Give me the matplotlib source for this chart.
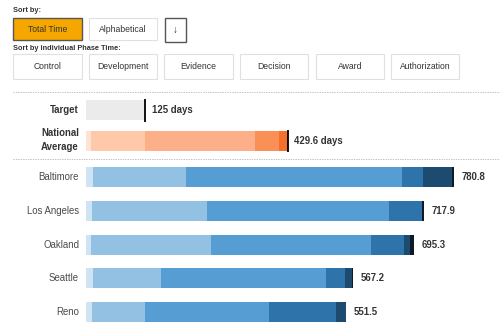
import numpy as np
import matplotlib.pyplot as plt
from matplotlib.patches import Rectangle

plt.rcParams['font.family'] = ['Liberation Sans', 'DejaVu Sans']

# phase times (days): Control, Development, Evidence, Decision, Award, Authorization
phases = ["Control", "Development", "Evidence", "Decision", "Award", "Authorization"]
cities = ["Baltimore", "Los Angeles", "Oakland", "Seattle", "Reno"]
city_phases = [
    [15.5, 196.7, 457.6, 45.8, 60.2, 5.0],
    [12.1, 245.3, 385.5, 70.7, 0.0, 4.3],
    [10.0, 254.6, 340.1, 70.0, 12.7, 7.9],
    [15.5, 144.3, 348.6, 41.0, 14.2, 3.6],
    [12.1, 113.1, 262.5, 142.8, 20.6, 0.4],
]
city_totals = [780.8, 717.9, 695.3, 567.2, 551.5]
national_phases = [10.0, 115.2, 233.4, 50.2, 17.0, 3.8]
national_total = 429.6
target_days = 125

blues = ["#d0e3f3", "#93c1e3", "#559dd2", "#2e74aa", "#1d4a6f", "#0e1a28"]
oranges = ["#fde3d3", "#fdc9a9", "#fcaf88", "#fb9057", "#f56f2d", "#e8591a"]

W, H = 500, 333
fig = plt.figure(figsize=(5, 3.33), dpi=100)

# pixel-space axes for the controls and row labels
ui = fig.add_axes([0, 0, 1, 1])
ui.set_xlim(0, W)
ui.set_ylim(H, 0)
ui.axis("off")

def button(x0, x1, y0, y1, text, face="white", edge="#e0e0e0", size=6.2, lw=0.8):
    ui.add_patch(Rectangle((x0, y0), x1 - x0, y1 - y0, facecolor=face,
                           edgecolor=edge, lw=lw))
    ui.text((x0 + x1) / 2, (y0 + y1) / 2, text, ha="center", va="center",
            fontsize=size, color="#333333")

ui.text(13, 10, "Sort by:", fontsize=5.3, fontweight="bold", color="#333333", va="center")
button(13, 82, 18, 40, "Total Time", face="#f5a700", edge="#555555", lw=1.0)
button(89, 157, 18, 40, "Alphabetical")
button(165, 186, 18, 42, "\u2193", edge="#555555", size=7, lw=1.0)
ui.text(13, 48, "Sort by individual Phase Time:", fontsize=5.3, fontweight="bold",
        color="#333333", va="center")
btn_x = [(13, 82), (89, 157), (164, 233), (240, 308), (316, 384), (391, 459)]
for (x0, x1), name in zip(btn_x, phases):
    button(x0, x1, 54, 79, name)

ui.plot([13, W], [92, 92], color="#aaaaaa", lw=0.5, ls=(0, (2, 1.5)))
ui.plot([13, W], [159, 159], color="#aaaaaa", lw=0.5, ls=(0, (2, 1.5)))

# bar axes: x in days, y shares pixel rows with ui
left_px = 86
px_per_day = 0.4713
ax = fig.add_axes([left_px / W, 0, 1 - left_px / W, 1])
ax.set_xlim(0, (W - left_px) / px_per_day)
ax.set_ylim(H, 0)
ax.axis("off")
bar_h = 20

# target row
y_t = 110
ax.barh(y_t, target_days, height=bar_h, color="#ebebeb")
ax.vlines(target_days, y_t - 11, y_t + 12, color="black", lw=1.3)
ax.annotate(f"{target_days} days", (target_days, y_t), xytext=(5, 0),
            textcoords="offset points", va="center", fontsize=6.9,
            fontweight="bold", color="#333333")
ui.text(79, y_t, "Target", ha="right", va="center", fontsize=6.9,
        fontweight="bold", color="#333333")

# national average row
y_n = 140.5
ax.barh(y_n, national_phases, left=np.concatenate([[0], np.cumsum(national_phases)[:-1]]),
        height=bar_h, color=oranges)
ax.vlines(national_total, y_n - 11, y_n + 11.5, color="black", lw=1.3)
ax.annotate(f"{national_total} days", (national_total, y_n), xytext=(4, 0),
            textcoords="offset points", va="center", fontsize=6.9,
            fontweight="bold", color="#333333")
ui.text(79, y_n, "National\nAverage", ha="right", va="center", fontsize=6.9,
        fontweight="bold", color="#333333", linespacing=1.5)

# city rows
for i, (city, vals, total) in enumerate(zip(cities, city_phases, city_totals)):
    y = 177 + 33.8 * i
    lefts = np.concatenate([[0], np.cumsum(vals)[:-1]])
    ax.barh(y, vals, left=lefts, height=bar_h, color=blues)
    ax.annotate(f"{total}", (total, y), xytext=(5.5, 0), textcoords="offset points",
                va="center", fontsize=6.9, fontweight="bold", color="#333333")
    ui.text(79, y, city, ha="right", va="center", fontsize=6.9, color="#4a4a4a")

fig.savefig("out.png", dpi=100)
